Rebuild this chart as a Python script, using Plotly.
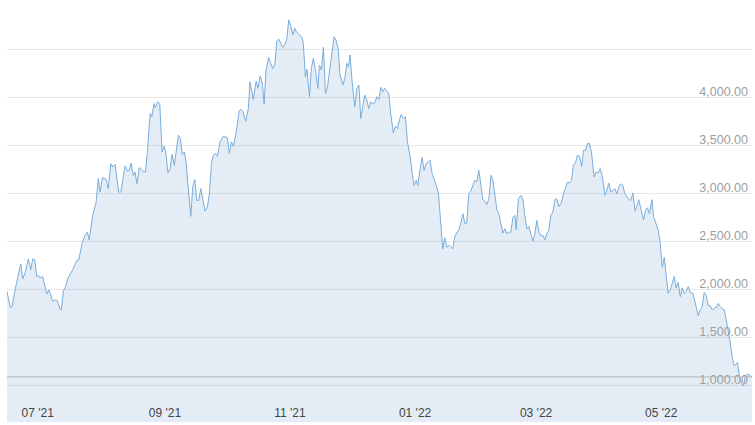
import pandas as pd
import plotly.graph_objects as go

start_date = "2021-06-16"

days_since_start = [
    0, 1.6, 2.4, 3.8, 4.7, 6.7, 7.7, 8.9, 10.4, 11.6, 12.5, 13.5, 14.5, 15.5, 16.1, 17.4,
    19.4, 20.5, 22.3, 23.3, 24.5, 25.9, 26.5, 27.5, 28.4, 29.8, 32.0, 34.0, 35.0, 36.7,
    38.0, 39.2, 40.1, 41.8, 43.4, 44.5, 45.4, 46.5, 48.3, 49.4, 50.6, 51.6, 52.7, 54.5,
    55.5, 57.6, 58.7, 59.7, 60.5, 61.6, 62.4, 63.4, 64.5, 66.2, 67.5, 68.4, 69.8, 70.6,
    71.7, 72.3, 73.5, 74.5, 75.6, 76.6, 77.4, 78.5, 79.5, 80.5, 81.6, 83.6, 84.5, 85.5,
    86.5, 87.3, 88.6, 89.6, 90.6, 91.6, 92.5, 93.5, 94.5, 95.5, 96.6, 97.7, 98.7, 99.7,
    100.6, 101.6, 102.6, 103.9, 105.2, 106.5, 107.5, 108.4, 109.4, 110.4, 111.7, 113.2,
    114.1, 115.1, 116.4, 117.7, 118.5, 120.1, 121.5, 122.4, 123.4, 124.4, 125.4, 126.3,
    127.6, 128.6, 129.6, 130.6, 131.6, 132.5, 133.5, 134.5, 135.5, 136.4, 137.4, 138.4,
    139.4, 140.3, 141.3, 142.6, 143.8, 144.5, 145.5, 146.3, 147.5, 148.4, 149.4, 150.4,
    151.6, 152.3, 153.3, 154.3, 155.3, 156.2, 157.6, 159.5, 160.5, 161.5, 162.4, 163.8,
    164.7, 165.7, 166.5, 167.3, 168.3, 169.6, 170.6, 171.6, 172.5, 173.5, 174.5, 175.5,
    176.4, 177.4, 178.4, 179.4, 180.3, 181.3, 182.3, 183.3, 184.2, 185.2, 186.2, 187.2,
    188.4, 189.4, 190.4, 191.4, 192.3, 193.3, 194.3, 195.3, 196.6, 197.6, 198.5, 199.5,
    200.3, 201.5, 202.4, 203.4, 204.4, 205.4, 206.3, 207.3, 208.3, 209.3, 210.4, 211.6,
    212.5, 213.5, 214.5, 215.5, 216.4, 217.4, 218.4, 219.4, 220.3, 221.3, 222.3, 223.3,
    224.2, 225.2, 226.2, 227.2, 228.1, 229.1, 230.1, 231.1, 232.0, 233.0, 234.0, 235.0,
    236.0, 236.9, 237.9, 238.9, 239.9, 240.8, 241.8, 242.8, 243.8, 244.7, 245.7, 246.7,
    247.7, 248.3, 249.4, 250.6, 251.6, 252.5, 253.5, 254.5, 255.5, 256.4, 257.4, 258.4,
    259.4, 260.3, 261.3, 262.3, 263.3, 264.2, 265.2, 266.2, 267.2, 268.1, 269.1, 270.1,
    271.4, 272.3, 273.3, 274.3, 275.3, 276.2, 277.2, 278.2, 279.2, 280.3, 281.1, 282.1,
    283.1, 284.0, 285.0, 286.3, 287.3, 288.3, 289.3, 290.2, 291.6, 292.5, 293.5, 294.5,
    295.5, 296.4, 297.4, 298.4, 299.4, 300.3, 301.3, 302.3, 303.3, 304.2, 305.2, 306.3,
    307.2, 308.1, 309.1, 310.4, 311.4, 312.3, 313.3, 314.5, 315.3, 316.2, 317.6, 318.5,
    319.5, 320.5, 321.5, 322.4, 323.4, 324.4, 325.4, 326.3, 327.3, 328.3, 329.3, 330.2,
    331.2, 332.2, 333.2, 334.5, 335.6, 337.1, 338.0, 339.0, 340.0, 341.0, 342.0, 342.9,
    343.9, 344.9, 345.9, 346.8, 347.8, 348.8, 349.8, 351.1, 352.3, 353.7, 354.6, 355.6,
    356.2, 357.2, 358.2, 359.2, 360.1, 361.1, 362.4, 363.3,
]

prices = [
    1983, 1817, 1824, 1991, 2077, 2269, 2113, 2182, 2321, 2207, 2321, 2311, 2137, 2147, 2123, 2137,
    1956, 1998, 1879, 1894, 1887, 1800, 1790, 1991, 2025, 2123, 2207, 2304, 2311, 2490,
    2565, 2599, 2520, 2773, 2901, 3156, 3016, 3166, 3152, 3052, 3312, 3277, 3305, 3016,
    3016, 3288, 3236, 3243, 3319, 3190, 3225, 3103, 3270, 3236, 3225, 3417, 3834, 3799,
    3938, 3896, 3955, 3931, 3434, 3493, 3434, 3215, 3260, 3409, 3295, 3607, 3573, 3409,
    3434, 3329, 2999, 2763, 3069, 3146, 2930, 2930, 3052, 2930, 2818, 2860, 2999, 3312,
    3399, 3417, 3388, 3538, 3590, 3590, 3580, 3417, 3538, 3493, 3625, 3860,
    3876, 3851, 3753, 3886, 4163, 3980, 4170, 4094, 4223, 4163, 3931, 4286,
    4417, 4355, 4302, 4338, 4591, 4606, 4564, 4523, 4550, 4606, 4807, 4744,
    4651, 4720, 4675, 4651, 4627, 4564, 4216, 4292, 4007, 4302, 4407, 4292,
    4094, 4338, 4286, 4523, 4042, 4094, 4338, 4633, 4591, 4512, 4234, 4129,
    4199, 4355, 4320, 4442, 4163, 3903, 4094, 4129, 3782, 3903, 4025, 3973,
    3886, 3955, 3931, 3945, 4007, 3980, 4105, 4059, 4094, 4069, 4035, 3816,
    3632, 3701, 3677, 3771, 3826, 3782, 3799, 3538, 3382, 3208, 3086, 3138,
    3086, 3260, 3375, 3243, 3312, 3329, 3347, 3208, 3156, 3086, 3006, 2651,
    2426, 2541, 2443, 2460, 2450, 2426, 2554, 2599, 2617, 2693, 2791, 2686,
    2693, 2999, 3027, 3086, 3138, 3120, 3243, 3086, 2937, 2922, 2888, 2947,
    3190, 3146, 2999, 2833, 2784, 2686, 2589, 2634, 2582, 2599, 2599, 2755,
    2773, 2624, 2947, 2982, 2937, 2773, 2634, 2658, 2565, 2505, 2582, 2721,
    2599, 2565, 2565, 2520, 2589, 2617, 2773, 2808, 2937, 2947, 2867, 2895,
    2999, 3061, 3120, 3109, 3138, 3295, 3319, 3399, 3388, 3284, 3451, 3451,
    3521, 3521, 3434, 3173, 3225, 3215, 3260, 3190, 2982, 3034, 3109, 3016,
    3040, 3052, 2999, 3069, 3103, 3086, 2999, 2964, 2937, 2930, 3006, 2818,
    2877, 2937, 2843, 2728, 2825, 2853, 2791, 2937, 2763, 2703, 2617, 2495,
    2234, 2338, 2095, 1963, 1998, 2061, 2137, 2019, 2077, 1928, 2019, 1963,
    1983, 2033, 1973, 1963, 1869, 1730, 1790, 1824, 1973, 1939, 1834, 1834,
    1790, 1811, 1817, 1858, 1824, 1800, 1790, 1660, 1504, 1295, 1209, 1226,
    1243, 1094, 1024, 1000, 1104, 1122, 1104, 1094,
]

y_ticks = [1000, 1500, 2000, 2500, 3000, 3500, 4000, 4500]
y_tick_labels = ["1,000.00", "1,500.00", "2,000.00", "2,500.00",
                 "3,000.00", "3,500.00", "4,000.00", ""]

dates = pd.to_datetime(start_date) + pd.to_timedelta(days_since_start, unit="D")

fig = go.Figure(
    go.Scatter(
        x=dates, y=prices, mode="lines",
        line=dict(color="#7aaddc", width=1),
        fill="tozeroy", fillcolor="rgba(90,140,190,0.16)",
        hoverinfo="skip",
    )
)

fig.add_shape(
    type="line", xref="paper", yref="y", x0=0, x1=1,
    y0=prices[-1], y1=prices[-1],
    line=dict(color="#b5b5b5", width=1), layer="above",
)

fig.update_layout(
    width=755, height=425,
    margin=dict(l=7, r=3, t=0, b=3),
    paper_bgcolor="white", plot_bgcolor="white",
    showlegend=False,
    font=dict(family="Arial, Liberation Sans, sans-serif", size=12, color="#9d9d9d"),
)

fig.update_xaxes(
    range=[dates[0], dates[-1]],
    tickformat="%m '%y", dtick="M2", tick0="2021-07-01",
    ticklabelposition="inside", ticks="",
    showgrid=False, zeroline=False, showline=False,
)

fig.update_yaxes(
    side="right", range=[624.5, 5014],
    tickvals=y_ticks, ticktext=y_tick_labels,
    tickfont=dict(size=12.5, color="#9d9d9d"),
    ticklabelposition="inside", ticklabelshift=-6, ticklabelstandoff=1,
    ticks="", gridcolor="#e8e8e8", gridwidth=1,
    zeroline=False, showline=False,
)

fig.write_html(
    "out.html",
    config={"displayModeBar": False},
    post_script="document.body.style.margin='0';document.body.style.overflow='hidden';",
)
